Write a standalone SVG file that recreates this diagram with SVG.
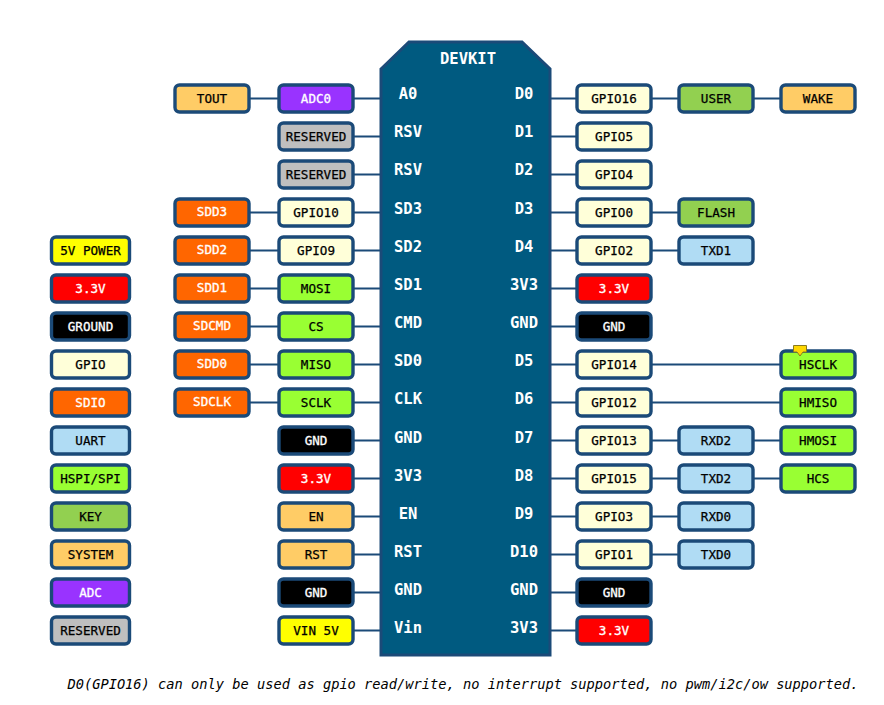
<svg xmlns="http://www.w3.org/2000/svg" width="884" height="705" viewBox="0 0 884 705">
<style>
text{font-family:"DejaVu Sans Mono","Liberation Mono",monospace;text-anchor:middle}
.b{stroke:#1b4a78;stroke-width:3.4}
.l{font-size:12.6px;fill:#000;stroke:#000;stroke-width:.25}
.w{font-size:12.6px;fill:#fff;stroke:#fff;stroke-width:.3}
.p{font-size:15.5px;fill:#fff;font-weight:bold}
.c{stroke:#1b4a78;stroke-width:2.2;fill:none}
.gpio{fill:#ffffd9}.sdio{fill:#ff6600}.hspi{fill:#99ff33}.uart{fill:#b0dcf4}.key{fill:#92d050}.sys{fill:#ffcc66}.adc{fill:#9933ff}.res{fill:#bfbfbf}.red{fill:#ff0000}.blk{fill:#000}.yel{fill:#ffff00}
</style>
<defs>
<rect id="n" x="-37" y="-13.5" width="74" height="27" rx="4.5"/>
<rect id="s" x="-39" y="-13.5" width="78" height="27" rx="4.5"/>
</defs>
<g id="connectors">
<path class="c" d="M249 98.500H381M353 136.500H381M353 174.500H381M249 212.500H381M249 250.500H381M249 288.500H381M249 326.500H381M249 364.500H381M249 402.500H381M353 440.500H381M353 478.500H381M353 516.500H381M353 554.500H381M353 592.500H381M353 630.500H381"/>
<path class="c" d="M550 98.500H781M550 136.500H577M550 174.500H577M550 212.500H679M550 250.500H679M550 288.500H577M550 326.500H577M550 364.500H781M550 402.500H781M550 440.500H781M550 478.500H781M550 516.500H679M550 554.500H679M550 592.500H577M550 630.500H577"/>
</g>
<g id="chip">
<polygon points="381,69 409,42 522,42 550,69 550,655 381,655" fill="#005a80" stroke="#1b4a78" stroke-width="3"/>
<text class="p" x="468" y="64">DEVKIT</text>
<text class="p" x="408" y="98.500">A0</text><text class="p" x="524" y="98.500">D0</text>
<text class="p" x="408" y="136.500">RSV</text><text class="p" x="524" y="136.500">D1</text>
<text class="p" x="408" y="174.500">RSV</text><text class="p" x="524" y="174.500">D2</text>
<text class="p" x="408" y="213.500">SD3</text><text class="p" x="524" y="213.500">D3</text>
<text class="p" x="408" y="251.500">SD2</text><text class="p" x="524" y="251.500">D4</text>
<text class="p" x="408" y="289.500">SD1</text><text class="p" x="524" y="289.500">3V3</text>
<text class="p" x="408" y="327.500">CMD</text><text class="p" x="524" y="327.500">GND</text>
<text class="p" x="408" y="365.500">SD0</text><text class="p" x="524" y="365.500">D5</text>
<text class="p" x="408" y="403.500">CLK</text><text class="p" x="524" y="403.500">D6</text>
<text class="p" x="408" y="442.500">GND</text><text class="p" x="524" y="442.500">D7</text>
<text class="p" x="408" y="480.500">3V3</text><text class="p" x="524" y="480.500">D8</text>
<text class="p" x="408" y="518.500">EN</text><text class="p" x="524" y="518.500">D9</text>
<text class="p" x="408" y="556.500">RST</text><text class="p" x="524" y="556.500">D10</text>
<text class="p" x="408" y="594.500">GND</text><text class="p" x="524" y="594.500">GND</text>
<text class="p" x="408" y="632.500">Vin</text><text class="p" x="524" y="632.500">3V3</text>
</g>
<g id="legend-5v" transform="translate(90.500 250.500)"><use href="#s" class="b yel"/><text class="l" y="4">5V POWER</text></g>
<g id="legend-33" transform="translate(90.500 288.500)"><use href="#s" class="b red"/><text class="w" y="4">3.3V</text></g>
<g id="legend-gnd" transform="translate(90.500 326.500)"><use href="#s" class="b blk"/><text class="w" y="4">GROUND</text></g>
<g id="legend-gpio" transform="translate(90.500 364.500)"><use href="#s" class="b gpio"/><text class="l" y="4">GPIO</text></g>
<g id="legend-sdio" transform="translate(90.500 402.500)"><use href="#s" class="b sdio"/><text class="w" y="4">SDIO</text></g>
<g id="legend-uart" transform="translate(90.500 440.500)"><use href="#s" class="b uart"/><text class="l" y="4">UART</text></g>
<g id="legend-hspi" transform="translate(90.500 478.500)"><use href="#s" class="b hspi"/><text class="l" y="4">HSPI/SPI</text></g>
<g id="legend-key" transform="translate(90.500 516.500)"><use href="#s" class="b key"/><text class="l" y="4">KEY</text></g>
<g id="legend-sys" transform="translate(90.500 554.500)"><use href="#s" class="b sys"/><text class="l" y="4">SYSTEM</text></g>
<g id="legend-adc" transform="translate(90.500 592.500)"><use href="#s" class="b adc"/><text class="w" y="4">ADC</text></g>
<g id="legend-res" transform="translate(90.500 630.500)"><use href="#s" class="b res"/><text class="l" y="4">RESERVED</text></g>
<g id="tout" transform="translate(212 98.500)"><use href="#n" class="b sys"/><text class="l" y="4">TOUT</text></g>
<g id="sdd3" transform="translate(212 212.500)"><use href="#n" class="b sdio"/><text class="w" y="3">SDD3</text></g>
<g id="sdd2" transform="translate(212 250.500)"><use href="#n" class="b sdio"/><text class="w" y="3">SDD2</text></g>
<g id="sdd1" transform="translate(212 288.500)"><use href="#n" class="b sdio"/><text class="w" y="3">SDD1</text></g>
<g id="sdcmd" transform="translate(212 326.500)"><use href="#n" class="b sdio"/><text class="w" y="3">SDCMD</text></g>
<g id="sdd0" transform="translate(212 364.500)"><use href="#n" class="b sdio"/><text class="w" y="3">SDD0</text></g>
<g id="sdclk" transform="translate(212 402.500)"><use href="#n" class="b sdio"/><text class="w" y="3">SDCLK</text></g>
<g id="adc0" transform="translate(316 98.500)"><use href="#n" class="b adc"/><text class="w" y="4">ADC0</text></g>
<g id="rsv1" transform="translate(316 136.500)"><use href="#n" class="b res"/><text class="l" y="4">RESERVED</text></g>
<g id="rsv2" transform="translate(316 174.500)"><use href="#n" class="b res"/><text class="l" y="4">RESERVED</text></g>
<g id="gpio10" transform="translate(316 212.500)"><use href="#n" class="b gpio"/><text class="l" y="4">GPIO10</text></g>
<g id="gpio9" transform="translate(316 250.500)"><use href="#n" class="b gpio"/><text class="l" y="4">GPIO9</text></g>
<g id="mosi" transform="translate(316 288.500)"><use href="#n" class="b hspi"/><text class="l" y="4">MOSI</text></g>
<g id="cs" transform="translate(316 326.500)"><use href="#n" class="b hspi"/><text class="l" y="4">CS</text></g>
<g id="miso" transform="translate(316 364.500)"><use href="#n" class="b hspi"/><text class="l" y="4">MISO</text></g>
<g id="sclk" transform="translate(316 402.500)"><use href="#n" class="b hspi"/><text class="l" y="4">SCLK</text></g>
<g id="lgnd1" transform="translate(316 440.500)"><use href="#n" class="b blk"/><text class="w" y="4">GND</text></g>
<g id="l33" transform="translate(316 478.500)"><use href="#n" class="b red"/><text class="w" y="4">3.3V</text></g>
<g id="en" transform="translate(316 516.500)"><use href="#n" class="b sys"/><text class="l" y="4">EN</text></g>
<g id="rst" transform="translate(316 554.500)"><use href="#n" class="b sys"/><text class="l" y="4">RST</text></g>
<g id="lgnd2" transform="translate(316 592.500)"><use href="#n" class="b blk"/><text class="w" y="4">GND</text></g>
<g id="vin" transform="translate(316 630.500)"><use href="#n" class="b yel"/><text class="l" y="4">VIN 5V</text></g>
<g id="gpio16" transform="translate(614 98.500)"><use href="#n" class="b gpio"/><text class="l" y="4">GPIO16</text></g>
<g id="gpio5" transform="translate(614 136.500)"><use href="#n" class="b gpio"/><text class="l" y="4">GPIO5</text></g>
<g id="gpio4" transform="translate(614 174.500)"><use href="#n" class="b gpio"/><text class="l" y="4">GPIO4</text></g>
<g id="gpio0" transform="translate(614 212.500)"><use href="#n" class="b gpio"/><text class="l" y="4">GPIO0</text></g>
<g id="gpio2" transform="translate(614 250.500)"><use href="#n" class="b gpio"/><text class="l" y="4">GPIO2</text></g>
<g id="r33a" transform="translate(614 288.500)"><use href="#n" class="b red"/><text class="w" y="4">3.3V</text></g>
<g id="rgnd1" transform="translate(614 326.500)"><use href="#n" class="b blk"/><text class="w" y="4">GND</text></g>
<g id="gpio14" transform="translate(614 364.500)"><use href="#n" class="b gpio"/><text class="l" y="4">GPIO14</text></g>
<g id="gpio12" transform="translate(614 402.500)"><use href="#n" class="b gpio"/><text class="l" y="4">GPIO12</text></g>
<g id="gpio13" transform="translate(614 440.500)"><use href="#n" class="b gpio"/><text class="l" y="4">GPIO13</text></g>
<g id="gpio15" transform="translate(614 478.500)"><use href="#n" class="b gpio"/><text class="l" y="4">GPIO15</text></g>
<g id="gpio3" transform="translate(614 516.500)"><use href="#n" class="b gpio"/><text class="l" y="4">GPIO3</text></g>
<g id="gpio1" transform="translate(614 554.500)"><use href="#n" class="b gpio"/><text class="l" y="4">GPIO1</text></g>
<g id="rgnd2" transform="translate(614 592.500)"><use href="#n" class="b blk"/><text class="w" y="4">GND</text></g>
<g id="r33b" transform="translate(614 630.500)"><use href="#n" class="b red"/><text class="w" y="4">3.3V</text></g>
<g id="user" transform="translate(716 98.500)"><use href="#n" class="b key"/><text class="l" y="4">USER</text></g>
<g id="flash" transform="translate(716 212.500)"><use href="#n" class="b key"/><text class="l" y="4">FLASH</text></g>
<g id="txd1" transform="translate(716 250.500)"><use href="#n" class="b uart"/><text class="l" y="4">TXD1</text></g>
<g id="rxd2" transform="translate(716 440.500)"><use href="#n" class="b uart"/><text class="l" y="4">RXD2</text></g>
<g id="txd2" transform="translate(716 478.500)"><use href="#n" class="b uart"/><text class="l" y="4">TXD2</text></g>
<g id="rxd0" transform="translate(716 516.500)"><use href="#n" class="b uart"/><text class="l" y="4">RXD0</text></g>
<g id="txd0" transform="translate(716 554.500)"><use href="#n" class="b uart"/><text class="l" y="4">TXD0</text></g>
<g id="wake" transform="translate(818 98.500)"><use href="#n" class="b sys"/><text class="l" y="4">WAKE</text></g>
<g id="hsclk" transform="translate(818 364.500)"><use href="#n" class="b hspi"/><text class="l" y="4">HSCLK</text><path d="M-24.500-19H-11.500V-12.500L-15-12.500L-18-8.500L-21-12.500H-24.500Z" fill="#ffd700" stroke="#8a7a20"/></g>
<g id="hmiso" transform="translate(818 402.500)"><use href="#n" class="b hspi"/><text class="l" y="4">HMISO</text></g>
<g id="hmosi" transform="translate(818 440.500)"><use href="#n" class="b hspi"/><text class="l" y="4">HMOSI</text></g>
<g id="hcs" transform="translate(818 478.500)"><use href="#n" class="b hspi"/><text class="l" y="4">HCS</text></g>
<text x="463" y="689" font-size="13.7" font-style="italic" fill="#000">D0(GPIO16) can only be used as gpio read/write, no interrupt supported, no pwm/i2c/ow supported.</text>
</svg>
